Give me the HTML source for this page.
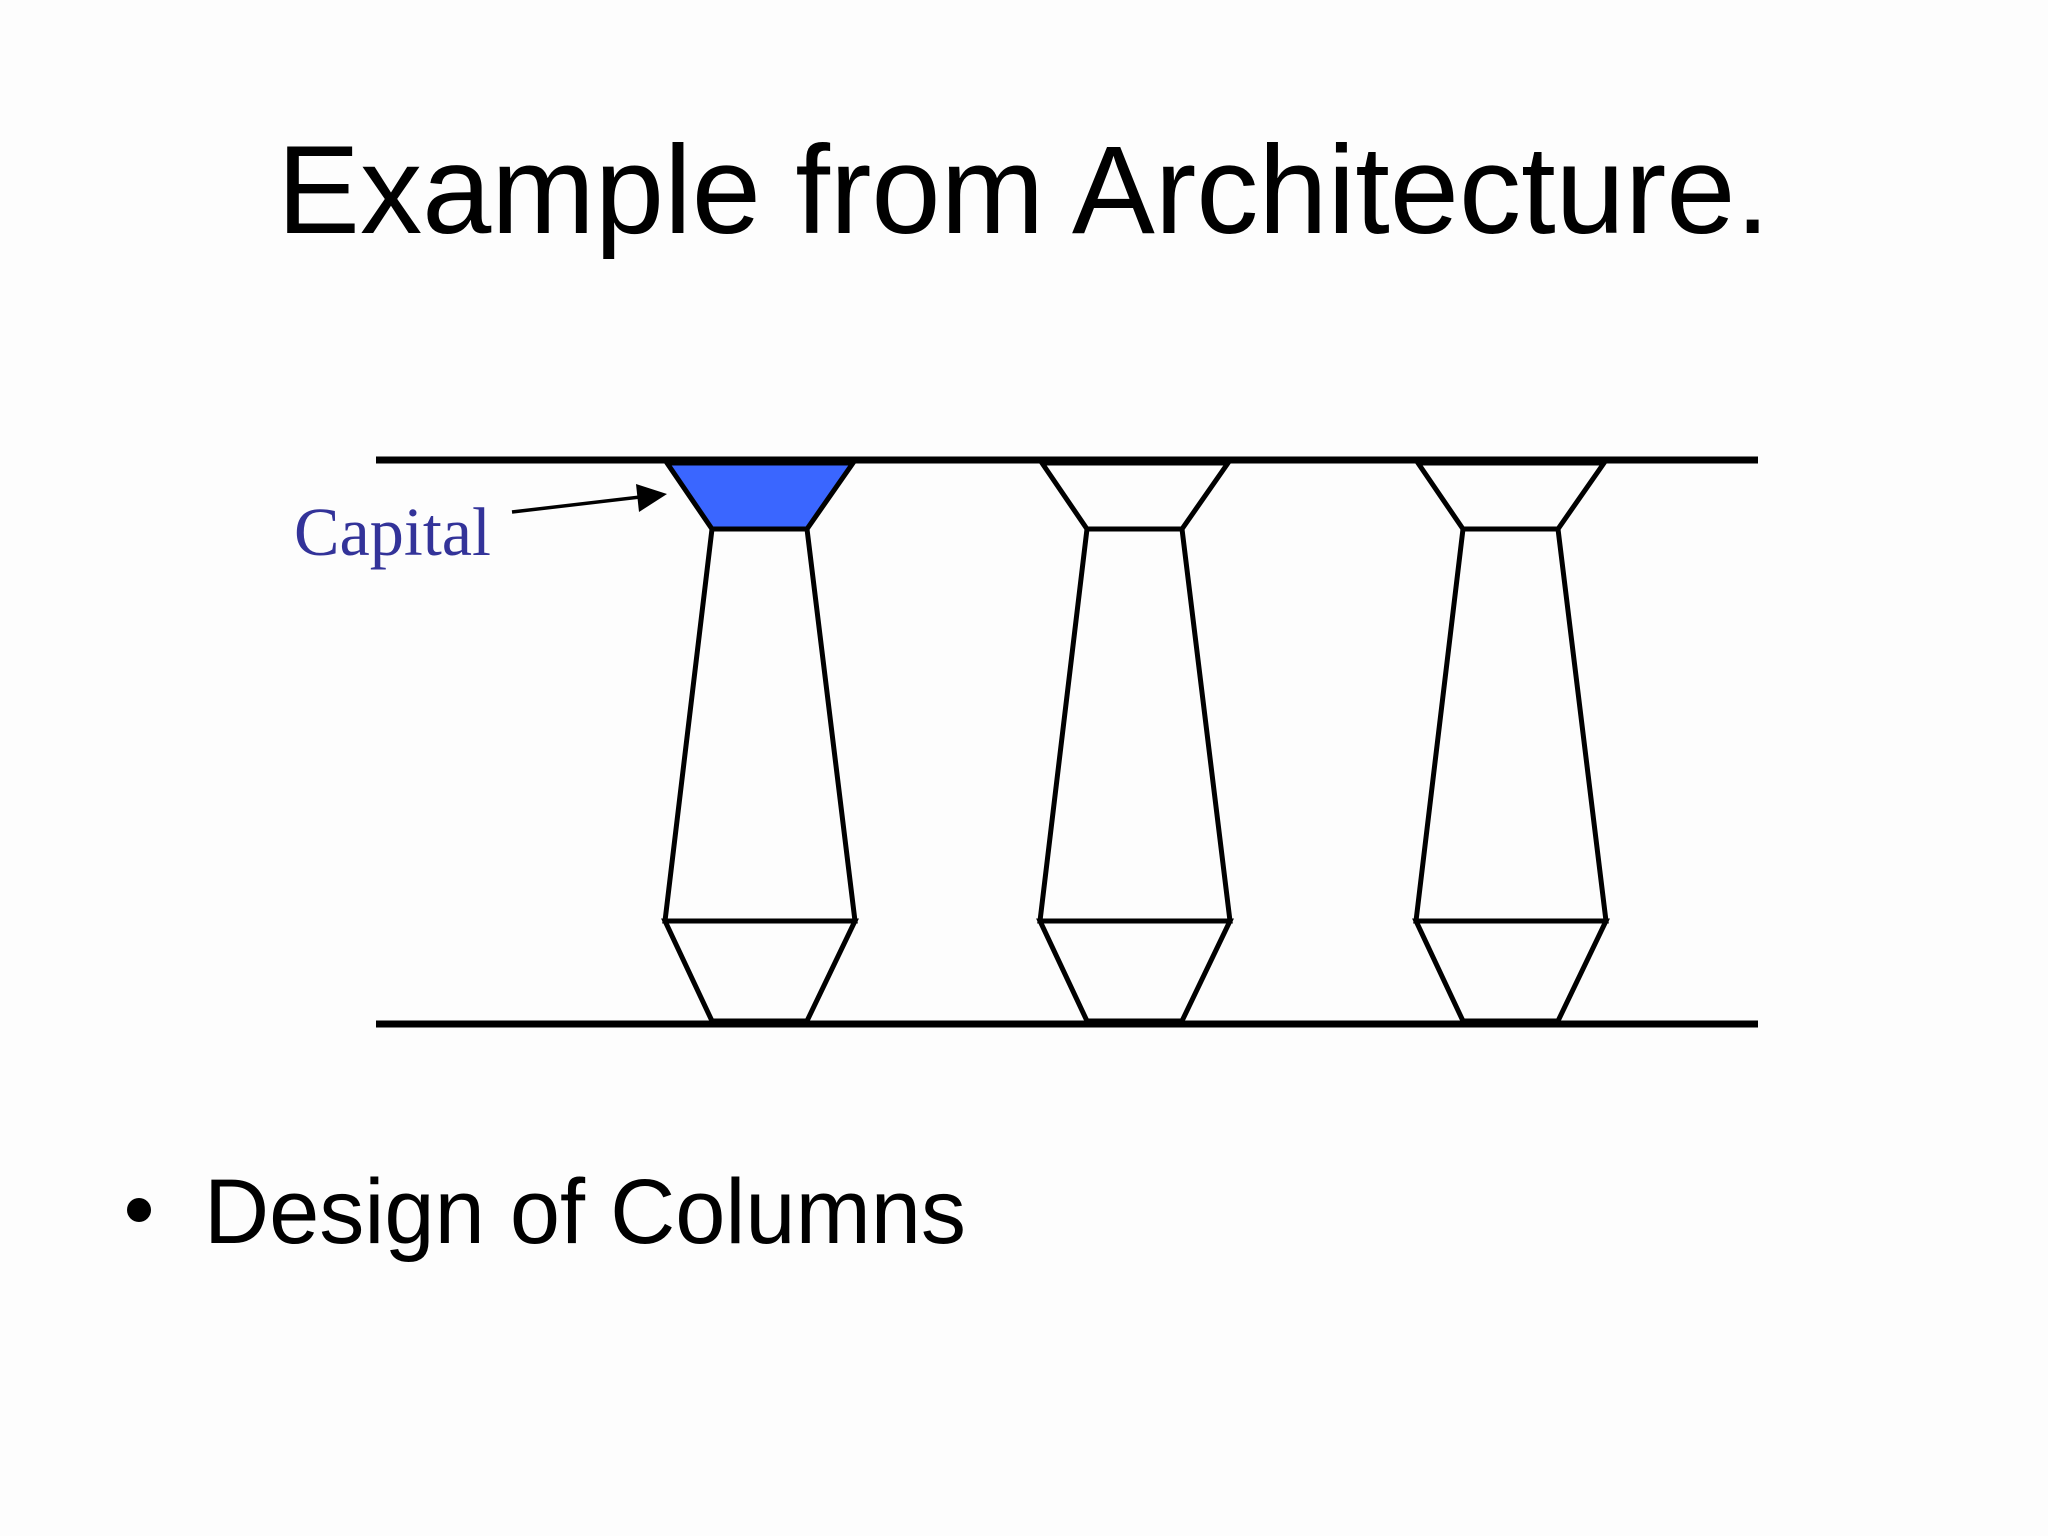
<!DOCTYPE html>
<html><head><meta charset="utf-8"><style>
html,body{margin:0;padding:0;background:#fdfdfd;}
svg{display:block;}
</style></head><body>
<svg width="2048" height="1536" viewBox="0 0 2048 1536" xmlns="http://www.w3.org/2000/svg">
<rect width="2048" height="1536" fill="#fdfdfd"/>
<text x="277" y="233" font-family="Liberation Sans, sans-serif" font-size="125" textLength="1493" lengthAdjust="spacingAndGlyphs" fill="#000">Example from Architecture.</text>
<line x1="376" y1="460" x2="1758" y2="460" stroke="#000" stroke-width="7"/>
<line x1="376" y1="1024" x2="1758" y2="1024" stroke="#000" stroke-width="7"/>
<polygon points="667,463 853,463 807,529 712,529" fill="#3a66ff"/>
<g fill="none" stroke="#000" stroke-width="5" stroke-linejoin="miter">
<g id="c">
<polygon points="667,463 853,463 807,529 712,529"/>
<polygon points="712,529 807,529 855,921 665,921"/>
<polygon points="665,921 855,921 807,1021 712,1021"/>
</g>
<use href="#c" transform="translate(375,0)"/>
<use href="#c" transform="translate(751,0)"/>
</g>
<line x1="512" y1="512" x2="640" y2="497" stroke="#000" stroke-width="3.5"/>
<polygon points="667,494 636,484 639,512" fill="#000"/>
<text x="294" y="555" font-family="Liberation Serif, serif" font-size="69" textLength="197" lengthAdjust="spacingAndGlyphs" fill="#333399">Capital</text>
<circle cx="139" cy="1210" r="12" fill="#000"/>
<text x="204" y="1243" font-family="Liberation Sans, sans-serif" font-size="92" textLength="762" lengthAdjust="spacingAndGlyphs" fill="#000">Design of Columns</text>
</svg>
</body></html>
